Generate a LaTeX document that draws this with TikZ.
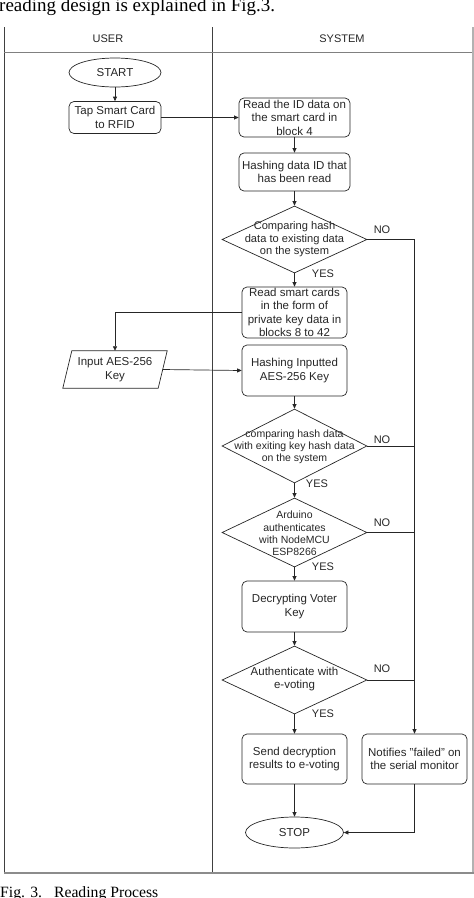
\documentclass[tikz,border=0pt]{standalone}
\usepackage{fontspec}
\setmainfont{Liberation Sans}
\newfontfamily\seriffont{Liberation Serif}
\usetikzlibrary{shapes.geometric,arrows.meta,calc}
\begin{document}
\begin{tikzpicture}[x=1pt,y=-1pt,
  box/.style={draw=black!85, rounded corners=5pt, minimum width=105pt, minimum height=51pt, inner sep=0pt, align=center, font=\fontsize{11.5}{13.5}\selectfont, text=black!85, line width=0.7pt},
  dia/.style={draw=black!85, diamond, minimum width=145pt, inner sep=0pt, line width=0.7pt},
  dtext/.style={align=center, inner sep=0pt, text=black!85},
  term/.style={draw=black!85, ellipse, inner sep=0pt, font=\fontsize{11.5}{13.5}\selectfont, text=black!85, line width=0.7pt},
  lbl/.style={font=\fontsize{11}{13}\selectfont, inner sep=0pt, text=black!85},
  conn/.style={draw=black!85, line width=0.7pt, -{Triangle[length=4.5pt,width=4pt]}},
  plain/.style={draw=black!85, line width=0.7pt}
]
\useasboundingbox (0,0) rectangle (474,898);

% frame
\draw[black!75, line width=1pt] (4,27) -- (4,873);
\draw[black!75, line width=1pt] (212,27) -- (212,873);
\draw[black!50, line width=1pt] (4,52) -- (473,52);
\draw[black!30, line width=2pt] (473,27) -- (473,873);
\draw[black!45, line width=1.2pt] (4,873) -- (474,873);

% outer texts
\node[anchor=base west, inner sep=0pt, font=\seriffont\fontsize{19}{22}\selectfont] (toptext) at (-1,11) {reading design is explained in Fig.3.};
\node[anchor=base west, inner sep=0pt, font=\seriffont\fontsize{15.7}{18}\selectfont] (caption) at (0,897.5) {Fig. 3.\hspace{12pt}Reading Process};

% headers
\node[lbl] (huser) at (108,38.5) {USER};
\node[lbl] (hsys) at (342,38.5) {SYSTEM};

% nodes
\node[term, minimum width=92pt, minimum height=29pt] (start) at (115,72.5) {START};
\node[box, minimum width=92pt, minimum height=32pt] (tap) at (115,117.5) {Tap Smart Card\\to RFID};
\node[box, minimum width=111pt, minimum height=39pt] (rid) at (294.5,117.5) {Read the ID data on\\the smart card in\\block 4};
\node[box, minimum width=111pt, minimum height=38pt] (hid) at (294.5,172) {Hashing data ID that\\has been read};

\node[dia, minimum height=67pt] (d1) at (294.5,239.5) {};
\node[dtext, font=\fontsize{11.1}{12.5}\selectfont] (d1t) at (294.5,239.5) {Comparing hash\\data to existing data\\on the system};

\node[box] (rsc) at (294.5,312.5) {Read smart cards\\in the form of\\private key data in\\blocks 8 to 42};

\node[draw=none, minimum width=95pt, minimum height=37pt, inner sep=0pt, align=center, font=\fontsize{11.5}{13.5}\selectfont, text=black!85] (inp) at (115,369.5) {Input AES-256\\Key};
\draw[plain] ($(inp.south west)+(-4.5,0)$) -- ($(inp.north west)+(4.5,0)$) -- ($(inp.north east)+(4.5,0)$) -- ($(inp.south east)+(-4.5,0)$) -- cycle;

\node[box] (hin) at (294.5,370.5) {Hashing Inputted\\AES-256 Key};

\node[dia, minimum height=74pt] (d2) at (294.5,446) {};
\node[dtext, font=\fontsize{10.5}{12}\selectfont] (d2t) at (294.5,447) {comparing hash data\\with exiting key hash data\\on the system};

\node[dia, minimum height=69pt] (d3) at (294.5,532.5) {};
\node[dtext, font=\fontsize{10.5}{12.4}\selectfont] (d3t) at (294.5,533.5) {Arduino\\authenticates\\with NodeMCU\\ESP8266};

\node[box] (dec) at (294.5,606.5) {Decrypting Voter\\Key};

\node[dia, minimum height=68pt] (d4) at (294.5,680) {};
\node[dtext, font=\fontsize{11.5}{13}\selectfont] (d4t) at (294.5,679.5) {Authenticate with\\e-voting};

\node[box, minimum height=50pt] (send) at (294.5,759) {Send decryption\\results to e-voting};
\node[box, minimum height=50pt] (fail) at (414.5,759) {Notifies "failed" on\\the serial monitor};

\node[term, minimum width=98pt, minimum height=31pt] (stop) at (294.5,832.5) {STOP};

% labels
\node[lbl] (no1) at (382,230) {NO};
\node[lbl] (no2) at (382,440) {NO};
\node[lbl] (no3) at (382,523) {NO};
\node[lbl] (no4) at (382,669) {NO};
\node[lbl] (yes1) at (323,274) {YES};
\node[lbl] (yes2) at (317,484) {YES};
\node[lbl] (yes3) at (323,567) {YES};
\node[lbl] (yes4) at (323,714) {YES};

% connectors
\draw[conn] (start) -- (tap);
\draw[conn] (tap) -- (rid);
\draw[conn] (rid) -- (hid);
\draw[conn] (hid) -- (d1);
\draw[conn] (d1) -- (rsc);
\draw[conn] (rsc.west) -| (inp.north);
\draw[conn] (inp.east) -- (hin.west);
\draw[conn] (hin) -- (d2);
\draw[conn] (d2) -- (d3);
\draw[conn] (d3) -- (dec);
\draw[conn] (dec) -- (d4);
\draw[conn] (d4) -- (send);
\draw[conn] (send) -- (stop);
\coordinate (j1) at (fail.north |- d1.east);
\draw[conn] (d1.east) -- (j1) -- (fail.north);
\draw[plain] (d2.east) -- (fail.north |- d2.east);
\draw[plain] (d3.east) -- (fail.north |- d3.east);
\draw[plain] (d4.east) -- (fail.north |- d4.east);
\draw[conn] (fail.south) |- (stop.east);
\end{tikzpicture}
\end{document}
